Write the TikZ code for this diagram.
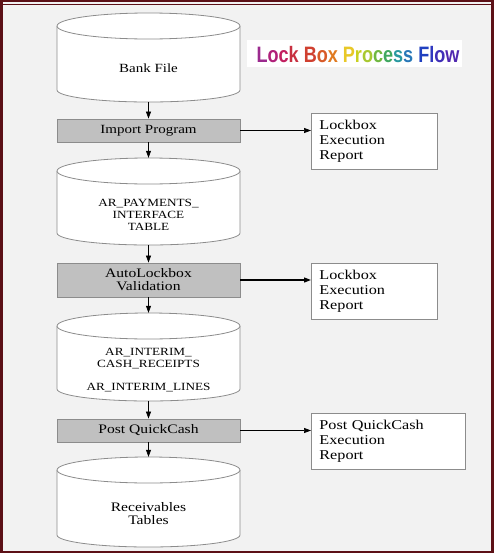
\documentclass[tikz,border=0pt]{standalone}
\usepackage{fontspec}
\setmainfont{Liberation Serif}[FakeStretch=1.2]
\newfontfamily\titlefont{Liberation Sans}[FakeStretch=0.81]
\usepackage{tikz}
\usetikzlibrary{arrows.meta,positioning}
\definecolor{framered}{HTML}{5C1016}
\definecolor{boxgray}{HTML}{C0C0C0}
\definecolor{edgegray}{HTML}{8C8C8C}
\definecolor{paper}{HTML}{F2F2F2}
\def\drum#1#2#3#4#5#6{\filldraw[drumline] (57,-#2-13) -- (57,-#3+12)
  arc[start angle=180,end angle=360,x radius=91.5,y radius=12] -- (240,-#2-13)
  arc[start angle=0,end angle=180,x radius=91.5,y radius=13] -- cycle;
\draw[drumline] (57,-#2-13) arc[start angle=180,end angle=360,x radius=91.5,y radius=13];
\node[drumbody,minimum height=#3-#2] (#1) at (148.5,-#2/2-#3/2) {};
\node[align=center,font=#5] (#1txt) at (148.5,-#4) {#6};}
\def\tl#1#2{\textcolor[HTML]{#1}{#2}}

\begin{document}
\begin{tikzpicture}[x=1pt,y=1pt,
  drumline/.style={draw=edgegray,fill=white,line width=0.8},
  drumbody/.style={inner sep=0,minimum width=183},
  prog/.style={draw=edgegray,fill=boxgray,line width=0.8,minimum width=183,inner sep=0,align=center,font=\fontsize{13}{13}\selectfont},
  report/.style={draw=edgegray,fill=white,line width=0.8,anchor=north west,minimum height=56,inner xsep=8,align=left,font=\fontsize{13.5}{15}\selectfont},
  flow/.style={-{Triangle[length=7pt,width=5pt]},line width=0.7}]
\useasboundingbox (0,0) rectangle (495,-557);
\fill[white] (0,0) rectangle (495,-557);
\fill[paper] (1,-1) rectangle (492.3,-552);
\draw[framered,line width=2.5] (1.25,-0.8) rectangle (492.3,-552);
\draw[framered,line width=1.2] (1,-4.8) -- (492.3,-4.8);
\node[fill=white,minimum width=215,minimum height=27,inner sep=0] (title) at (354.5,-53.5) {};
\node[inner sep=0] (titletext) at (358,-55) {\titlefont\bfseries\fontsize{22.3}{22}\selectfont
  \tl{9B2A8E}{L}\tl{B0207A}{o}\tl{C22060}{c}\tl{C83040}{k} \tl{D04030}{B}\tl{D85A28}{o}\tl{E07A20}{x}
  \tl{E8C828}{P}\tl{C8D020}{r}\tl{A8C830}{o}\tl{70B840}{c}\tl{40A860}{e}\tl{2898A0}{s}\tl{2878B8}{s}
  \tl{2040C0}{F}\tl{3038C0}{l}\tl{4030B8}{o}\tl{5028B0}{w}};
\drum{bank}{13}{102}{68.5}{\fontsize{12.5}{13}\selectfont}{Bank File}
\drum{payments}{158}{245}{215}{\fontsize{11}{12}\selectfont}{AR\_PAYMENTS\_\\INTERFACE\\TABLE}
\drum{interim}{313}{401}{370.5}{\fontsize{11}{12}\selectfont}{AR\_INTERIM\_\\CASH\_RECEIPTS\\[11pt]AR\_INTERIM\_LINES}
\drum{receivables}{457}{547}{513.5}{\fontsize{13}{13}\selectfont}{Receivables\\Tables}
\node[prog,minimum height=23,font=\fontsize{12.5}{13}\selectfont] (import) at (148.5,-130.5) {Import Program};
\node[prog,minimum height=34] (auto) at (148.5,-280) {AutoLockbox\\Validation};
\node[prog,minimum height=23] (post) at (148.5,-430.5) {Post QuickCash};
\node[report,text width=110] (rep1) at (311,-113) {Lockbox\\Execution\\Report};
\node[report,text width=110] (rep2) at (311,-263) {Lockbox\\Execution\\Report};
\node[report,text width=138] (rep3) at (311,-413) {Post QuickCash\\Execution\\Report};
\draw[flow] (bank) -- (import);
\draw[flow] (import) -- (payments);
\draw[flow] (payments) -- (auto);
\draw[flow] (auto) -- (interim);
\draw[flow] (interim) -- (post);
\draw[flow] (post) -- (receivables);
\draw[flow] (import.east) -- (import.east -| rep1.west);
\draw[flow,line width=1.2] (auto.east) -- (auto.east -| rep2.west);
\draw[flow] (post.east) -- (post.east -| rep3.west);
\end{tikzpicture}
\end{document}
